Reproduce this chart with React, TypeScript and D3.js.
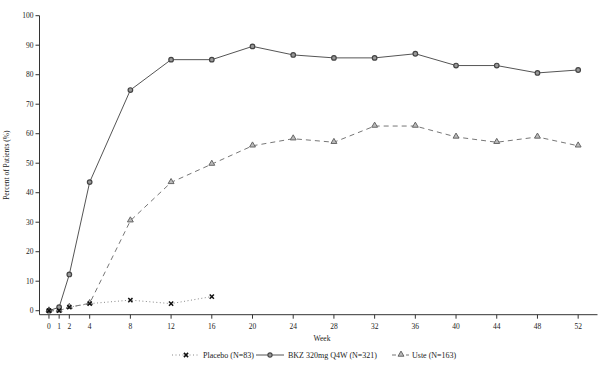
import React from "react";
import * as d3 from "d3";

const weeks = [0, 1, 2, 4, 8, 12, 16, 20, 24, 28, 32, 36, 40, 44, 48, 52];
const bkz = [0, 1.2, 12.3, 43.6, 74.8, 85.1, 85.1, 89.6, 86.7, 85.7, 85.7, 87.1, 83.1, 83.1, 80.6, 81.6];
const uste = [0, 0, 1.2, 2.5, 30.5, 43.5, 49.7, 55.9, 58.3, 57.1, 62.6, 62.6, 58.9, 57.1, 58.9, 55.9];
const placeboWeeks = [0, 1, 2, 4, 8, 12, 16];
const placebo = [0, 0, 1.2, 2.4, 3.6, 2.4, 4.8];
const yTicks = [0, 10, 20, 30, 40, 50, 60, 70, 80, 90, 100];
const xTicks = [0, 1, 2, 4, 8, 12, 16, 20, 24, 28, 32, 36, 40, 44, 48, 52];
const legendLabels = ["Placebo (N=83)", "BKZ 320mg Q4W (N=321)", "Uste (N=163)"];

const FONT = "'Liberation Serif', 'DejaVu Serif', serif";

export default function App() {
  const W = 602, H = 366;
  const x = d3.scaleLinear().domain([-0.93, 53.9]).range([39.5, 597.5]);
  const y = d3.scaleLinear().domain([-1.35, 100]).range([314.7, 15.7]);
  const line = d3.line<[number, number]>().x(d => x(d[0])).y(d => y(d[1]));
  const bkzPts: [number, number][] = weeks.map((w, i) => [w, bkz[i]]);
  const ustePts: [number, number][] = weeks.map((w, i) => [w, uste[i]]);
  const plPts: [number, number][] = placeboWeeks.map((w, i) => [w, placebo[i]]);
  const tri = d3.symbol().type(d3.symbolTriangle).size(15)();
  const x0 = x.range()[0];
  const yBase = y.range()[0];

  const cross = (cx: number, cy: number, k: number) => (
    <g key={k} stroke="#111" strokeWidth={1.5}>
      <line x1={cx - 2.1} y1={cy - 2.1} x2={cx + 2.1} y2={cy + 2.1} />
      <line x1={cx - 2.1} y1={cy + 2.1} x2={cx + 2.1} y2={cy - 2.1} />
    </g>
  );

  const ly = 355;
  return (
    <svg width={W} height={H} style={{ position: "absolute", left: 0, top: 0, background: "#fff" }} fontFamily={FONT}>
      {/* axes */}
      <line x1={x0} y1={y(100)} x2={x0} y2={yBase} stroke="#333" strokeWidth={1} />
      <line x1={x0} y1={yBase} x2={x.range()[1]} y2={yBase} stroke="#333" strokeWidth={1} />
      {yTicks.map(t => (
        <g key={t}>
          <line x1={x0 - 4} x2={x0} y1={y(t)} y2={y(t)} stroke="#333" />
          <text x={x0 - 6} y={y(t)} dy="0.33em" textAnchor="end" fontSize={7.5} fill="#222">{t}</text>
        </g>
      ))}
      {xTicks.map(t => (
        <g key={t}>
          <line x1={x(t)} x2={x(t)} y1={yBase} y2={yBase + 4} stroke="#333" />
          <text x={x(t)} y={yBase + 14} textAnchor="middle" fontSize={7.5} fill="#222">{t}</text>
        </g>
      ))}
      <text x={322} y={341} textAnchor="middle" fontSize={7.5} fill="#222">Week</text>
      <text transform={`translate(9,${(y(100) + yBase) / 2}) rotate(-90)`} textAnchor="middle" fontSize={7.5} fill="#222">Percent of Patients (%)</text>

      {/* lines */}
      <path d={line(ustePts) || ""} fill="none" stroke="#777" strokeWidth={1} strokeDasharray="5,4" />
      <path d={line(plPts) || ""} fill="none" stroke="#888" strokeWidth={1} strokeDasharray="1,2.5" />
      <path d={line(bkzPts) || ""} fill="none" stroke="#555" strokeWidth={1} />

      {ustePts.map((p, i) => (
        <path key={i} d={tri || ""} transform={`translate(${x(p[0])},${y(p[1]) - 0.5})`} fill="#bbb" stroke="#666" strokeWidth={1} />
      ))}
      {bkzPts.map((p, i) => (
        <circle key={i} cx={x(p[0])} cy={y(p[1])} r={2.3} fill="#999" stroke="#444" strokeWidth={1.2} />
      ))}
      {plPts.map((p, i) => cross(x(p[0]), y(p[1]), i))}

      {/* legend */}
      <g fontSize={8} fill="#222">
        <line x1={172} x2={200} y1={ly} y2={ly} stroke="#888" strokeDasharray="1,2.5" />
        {cross(186, ly, 100)}
        <text x={203} y={ly} dy="0.33em">{legendLabels[0]}</text>
        <line x1={256} x2={284} y1={ly} y2={ly} stroke="#555" />
        <circle cx={270} cy={ly} r={2.1} fill="#999" stroke="#444" strokeWidth={1.1} />
        <text x={288} y={ly} dy="0.33em">{legendLabels[1]}</text>
        <line x1={392} x2={409} y1={ly} y2={ly} stroke="#777" strokeDasharray="4,3" />
        <path d={tri || ""} transform={`translate(401,${ly - 0.5})`} fill="#bbb" stroke="#666" />
        <text x={412} y={ly} dy="0.33em">{legendLabels[2]}</text>
      </g>
    </svg>
  );
}
